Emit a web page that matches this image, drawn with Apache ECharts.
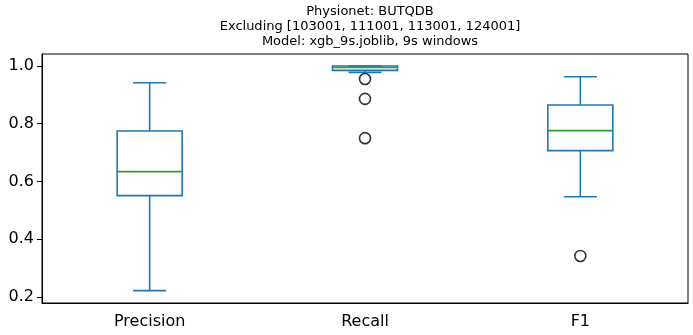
<!DOCTYPE html>
<html>
<head>
<meta charset="utf-8">
<script src="https://cdn.jsdelivr.net/npm/echarts@6/dist/echarts.min.js"></script>
<style>html,body{margin:0;padding:0;background:#fff;}#c{width:693px;height:335px;}</style>
</head>
<body>
<div id="c"></div>
<script>
var categories = ['Precision', 'Recall', 'F1'];
// [lowWhisker, Q1, median, Q3, highWhisker]
var precisionBox = [0.222, 0.551, 0.634, 0.775, 0.942];
var recallBox = [0.978, 0.985, 0.995, 1.0, 1.0];
var f1Box = [0.547, 0.707, 0.776, 0.865, 0.963];
var precisionOutliers = [];
var recallOutliers = [0.955, 0.886, 0.750];
var f1Outliers = [0.342];
var yTicks = [0.2, 0.4, 0.6, 0.8, 1.0];

var boxes = [precisionBox, recallBox, f1Box];
var outlierSets = [precisionOutliers, recallOutliers, f1Outliers];
var boxData = boxes.map(function (b, i) { return [i].concat(b); });
var outlierData = [];
outlierSets.forEach(function (s, i) { s.forEach(function (v) { outlierData.push([i, v]); }); });

var BLUE = '#1f77b4', GREEN = '#2ca02c', LW = 1.6;
var chart = echarts.init(document.getElementById('c'));
chart.setOption({
  animation: false,
  title: {
    text: 'Physionet: BUTQDB\nExcluding [103001, 111001, 113001, 124001]\nModel: xgb_9s.joblib, 9s windows',
    left: 365, textAlign: 'center', top: -1,
    textStyle: { fontFamily: 'DejaVu Sans', fontSize: 13, fontWeight: 'normal', color: '#000', lineHeight: 15 }
  },
  grid: { left: 42, right: 5, top: 54, bottom: 32, show: true, borderColor: '#000', borderWidth: 1, backgroundColor: 'transparent' },
  xAxis: {
    type: 'category', data: categories, boundaryGap: true,
    axisLine: { lineStyle: { color: '#000', width: 1 } },
    axisTick: { alignWithLabel: true, length: 5, lineStyle: { color: '#000' } },
    axisLabel: { fontFamily: 'DejaVu Sans', fontSize: 16, color: '#000', margin: 11 },
    splitLine: { show: false }
  },
  yAxis: {
    type: 'value', min: 0.179, max: 1.0416,
    axisLine: { show: true, lineStyle: { color: '#000', width: 1 } },
    axisTick: { show: true, length: 5, customValues: yTicks, lineStyle: { color: '#000' } },
    axisLabel: { fontFamily: 'DejaVu Sans', fontSize: 16, color: '#000', margin: 8, customValues: yTicks,
      formatter: function (v) { return v.toFixed(1); } },
    splitLine: { show: false }
  },
  series: [
    {
      type: 'custom',
      data: boxData,
      renderItem: function (params, api) {
        var idx = api.value(0);
        var lo = api.coord([idx, api.value(1)]);
        var q1 = api.coord([idx, api.value(2)]);
        var med = api.coord([idx, api.value(3)]);
        var q3 = api.coord([idx, api.value(4)]);
        var hi = api.coord([idx, api.value(5)]);
        var cx = lo[0], hw = 32.5, cw = 16.5;
        var ls = { stroke: BLUE, lineWidth: LW, fill: null };
        return {
          type: 'group',
          children: [
            { type: 'line', shape: { x1: cx, y1: q1[1], x2: cx, y2: lo[1] }, style: ls },
            { type: 'line', shape: { x1: cx, y1: q3[1], x2: cx, y2: hi[1] }, style: ls },
            { type: 'line', shape: { x1: cx - cw, y1: lo[1], x2: cx + cw, y2: lo[1] }, style: ls },
            { type: 'line', shape: { x1: cx - cw, y1: hi[1], x2: cx + cw, y2: hi[1] }, style: ls },
            { type: 'rect', shape: { x: cx - hw, y: q3[1], width: 2 * hw, height: q1[1] - q3[1] }, style: { stroke: BLUE, lineWidth: LW, fill: 'none' } },
            { type: 'line', shape: { x1: cx - hw, y1: med[1], x2: cx + hw, y2: med[1] }, style: { stroke: GREEN, lineWidth: LW } }
          ]
        };
      }
    },
    {
      type: 'scatter',
      data: outlierData,
      symbol: 'circle', symbolSize: 11,
      itemStyle: { color: 'transparent', borderColor: '#000', borderWidth: 1.6 }
    }
  ]
});
</script>
</body>
</html>
